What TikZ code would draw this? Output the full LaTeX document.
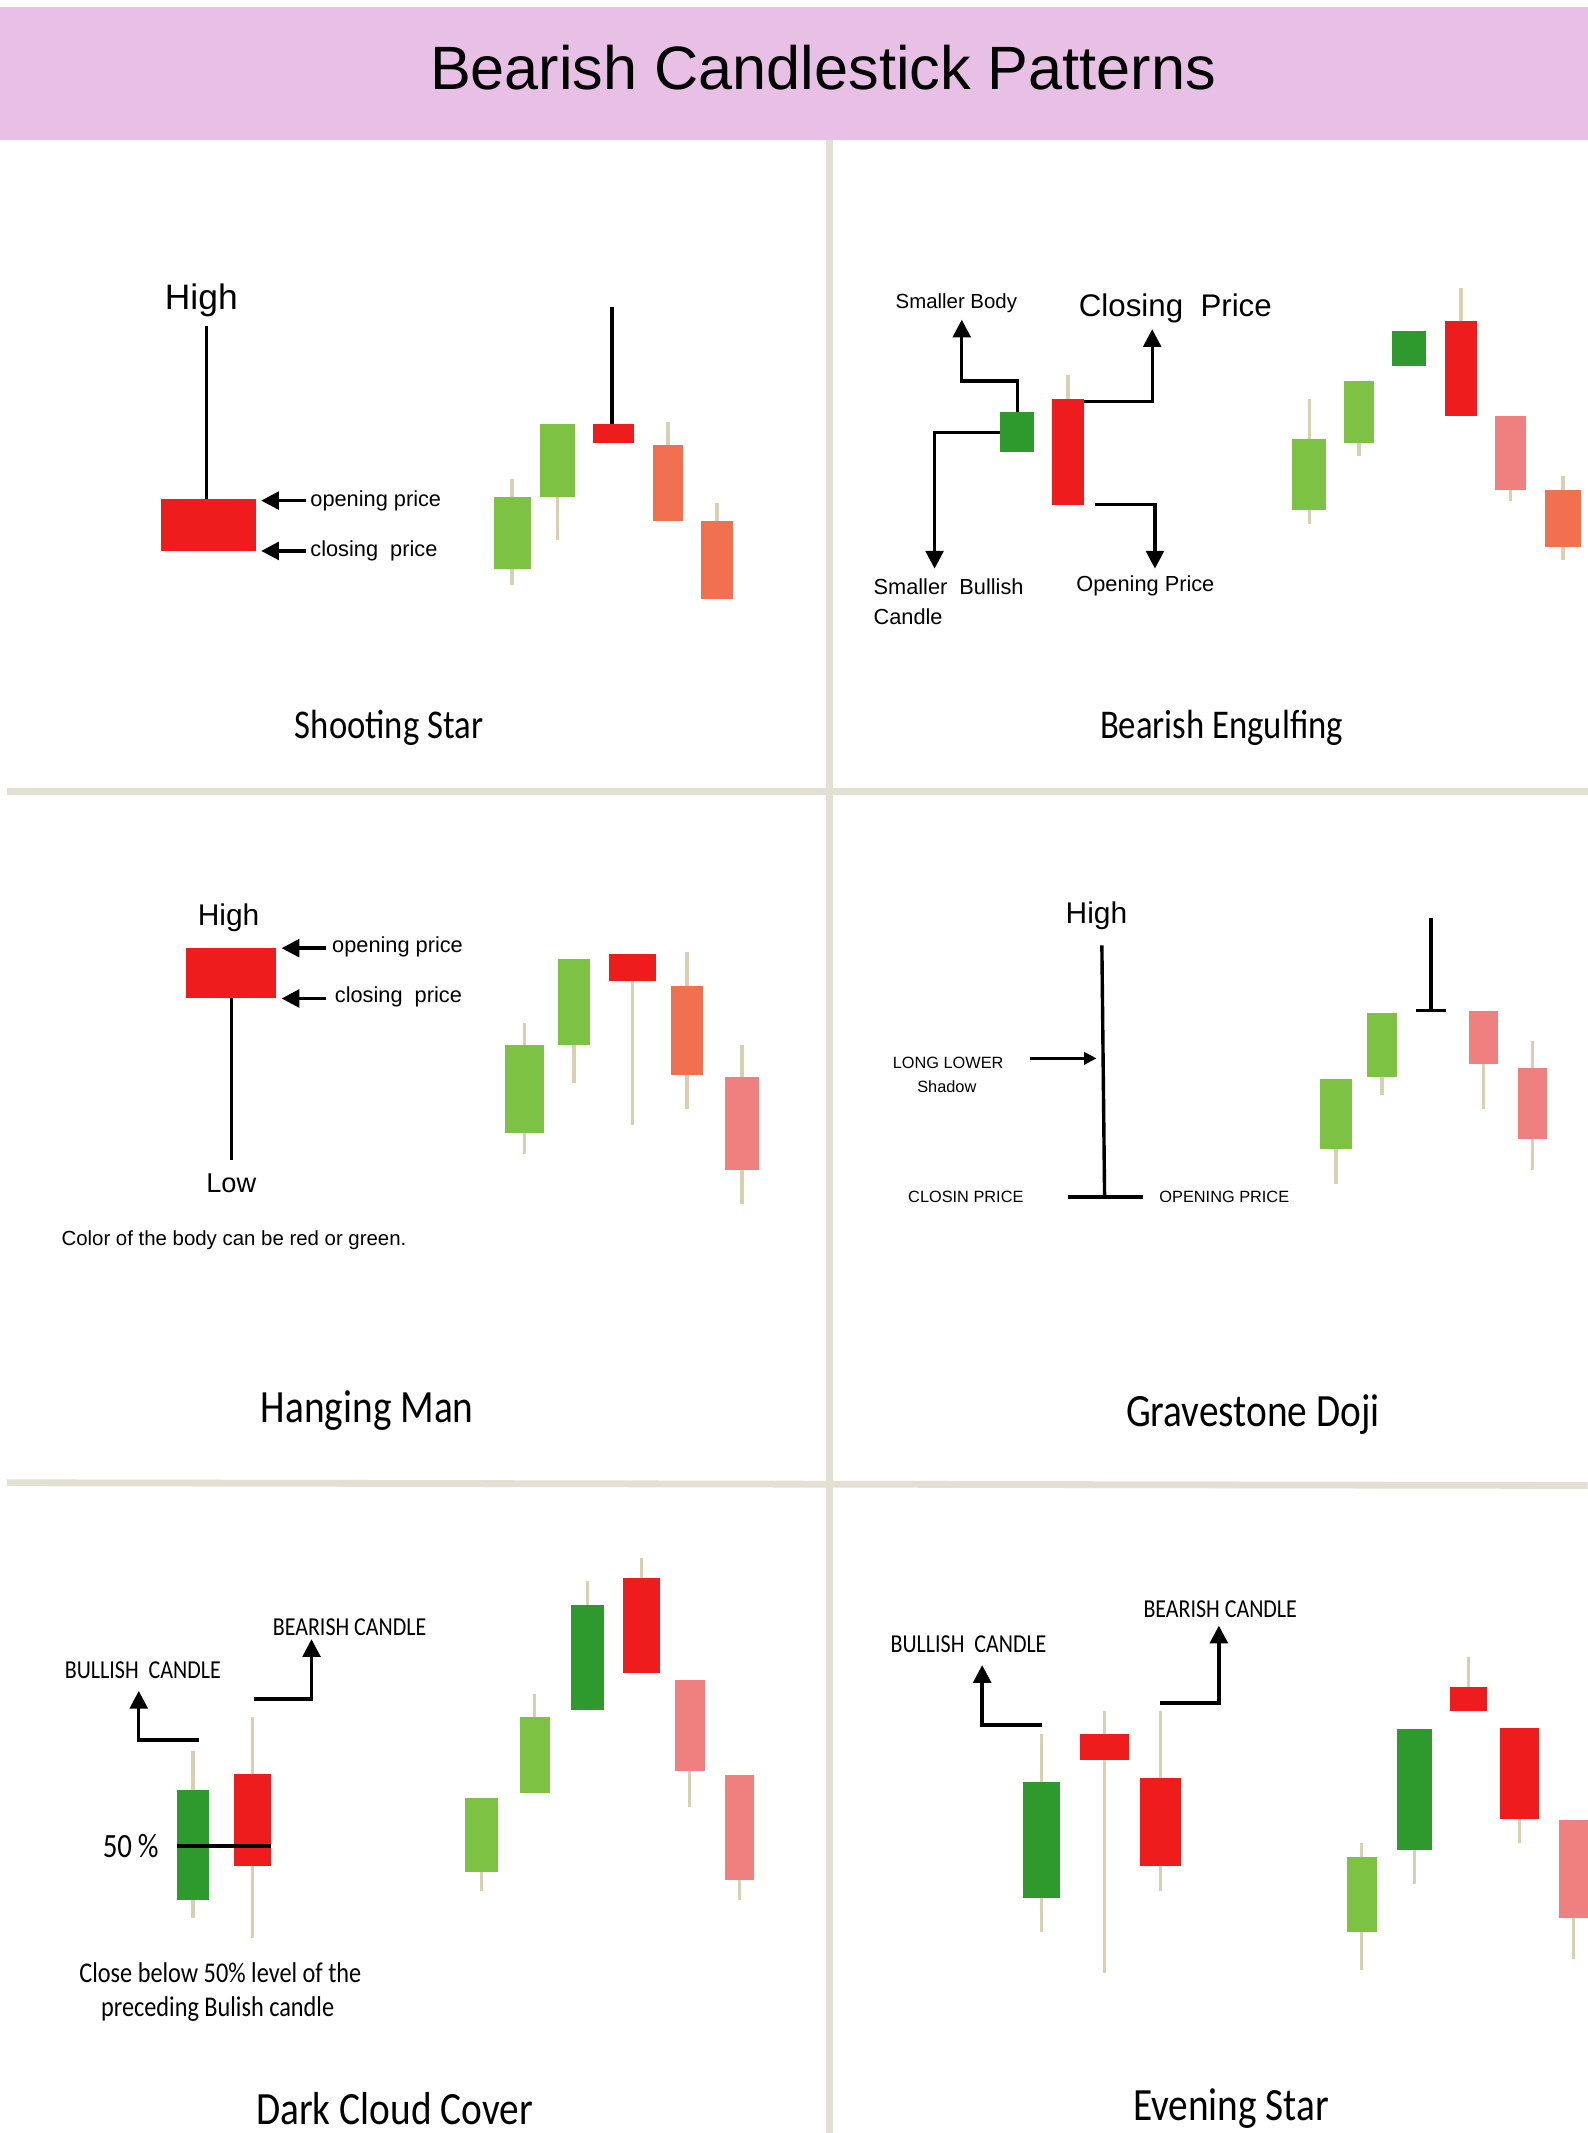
\documentclass[tikz,border=0pt]{standalone}
\usepackage{fontspec}
\setmainfont{Liberation Sans}
\newfontfamily\cond[FakeStretch=0.85]{Carlito}
\usetikzlibrary{arrows.meta}
\definecolor{hdr}{HTML}{E8C0E6}
\definecolor{divc}{HTML}{E2DFD3}
\definecolor{cred}{HTML}{EE1C1C}
\definecolor{cgrn}{HTML}{7DC242}
\definecolor{cdgr}{HTML}{2E9A2E}
\definecolor{csal}{HTML}{F08080}
\definecolor{corg}{HTML}{F07050}
\definecolor{wick}{HTML}{D8D0B0}
\newcommand{\cdl}[7]{\draw[wick,line width=2.5pt] ({(#1+#3)/2},#5) -- ({(#1+#3)/2},#6);\fill[#7] (#1,#2) rectangle (#3,#4);}
\tikzset{lab/.style={font=\fontsize{16}{18}\selectfont,inner sep=0},
 ttl/.style={font=\cond\fontsize{30}{34}\selectfont,inner sep=0},
 arr/.style={line width=2.5pt,-{Triangle[length=13pt,width=13pt]}},
 ln/.style={line width=2.5pt}}
\begin{document}
\begin{tikzpicture}[x=1pt,y=-1pt]
\useasboundingbox (0,0) rectangle (1167,1568);
\fill[white] (0,0) rectangle (1167,1568);
\fill[hdr] (0,5) rectangle (1167,103);
\node[font=\fontsize{45}{49}\selectfont] (title) at (605,50) {Bearish Candlestick Patterns};
\draw[divc,line width=5pt] (610,103) -- (610,1568);
\draw[divc,line width=5pt] (5,582) -- (1167,582);
\draw[divc,line width=5pt] (5,1090) -- (1167,1092);
% Shooting star
\node[font=\fontsize{26}{28}\selectfont] at (148,221) {High};
\draw[ln] (152,240) -- (152,368);
\fill[cred] (118,367) rectangle (188,405);
\draw[arr] (225,368) -- (192,368); \node[lab,anchor=west] at (228,368) {opening price};
\draw[arr] (225,405) -- (192,405); \node[lab,anchor=west] at (228,405) {closing\ \ price};
\cdl{363}{365}{390}{418}{352}{430}{cgrn}
\cdl{397}{312}{423}{365}{312}{397}{cgrn}
\draw[ln] (450,226) -- (450,312); \fill[cred] (436,312) rectangle (466,326);
\cdl{480}{327}{502}{383}{310}{383}{corg}
\cdl{515}{383}{539}{440}{370}{440}{corg}
\node[ttl] at (286,535) {Shooting Star};
% Bearish Engulfing
\node[lab,font=\fontsize{15}{17}\selectfont] at (703,223) {Smaller Body};
\node[lab,font=\fontsize{23}{25}\selectfont] at (864,227) {Closing\ \ Price};
\fill[cdgr] (735,303) rectangle (760,332);
\draw[wick,line width=2.5pt] (785,276) -- (785,293);
\fill[cred] (773,293) rectangle (797,371);
\draw[arr] (748,303) -- (748,280) -- (707,280) -- (707,235);
\draw[arr] (797,295) -- (847,295) -- (847,242);
\draw[arr] (735,318) -- (687,318) -- (687,418);
\draw[arr] (805,371) -- (849,371) -- (849,418);
\node[lab,anchor=west] at (642,431) {Smaller\ \ Bullish};
\node[lab,anchor=west] at (642,453) {Candle};
\node[lab] at (842,431) {Opening Price};
\cdl{950}{323}{975}{375}{293}{385}{cgrn}
\cdl{988}{280}{1010}{326}{280}{335}{cgrn}
\fill[cdgr] (1023,243) rectangle (1048,269);
\cdl{1062}{236}{1086}{306}{212}{306}{cred}
\cdl{1099}{306}{1122}{360}{306}{368}{csal}
\cdl{1136}{360}{1162}{402}{350}{412}{corg}
\node[ttl] at (898,535) {Bearish Engulfing};
% Hanging man
\node[font=\fontsize{22}{24}\selectfont] at (168,675) {High};
\fill[cred] (137,697) rectangle (203,734);
\draw[ln] (170,734) -- (170,853);
\node[font=\fontsize{20}{22}\selectfont] at (170,870) {Low};
\draw[arr] (240,697) -- (207,697); \node[lab,anchor=west] at (244,696) {opening price};
\draw[arr] (240,734) -- (207,734); \node[lab,anchor=west] at (246,733) {closing\ \ price};
\node[lab,font=\fontsize{15}{17}\selectfont] at (172,912) {Color of the body can be red or green.};
\cdl{371}{768}{400}{833}{752}{848}{cgrn}
\cdl{410}{705}{434}{768}{705}{796}{cgrn}
\cdl{448}{701}{482}{721}{701}{827}{cred}
\cdl{493}{725}{517}{790}{700}{815}{corg}
\cdl{533}{792}{558}{860}{768}{885}{csal}
\node[ttl,font=\cond\fontsize{34}{38}\selectfont] at (270,1037) {Hanging Man};
% Gravestone doji
\node[font=\fontsize{22}{24}\selectfont] at (806,673) {High};
\draw[ln] (810,695) -- (812,880);
\draw[ln] (785,880) -- (840,880);
\node[lab,font=\fontsize{12}{14}\selectfont] at (697,781) {LONG LOWER};
\node[lab,font=\fontsize{12}{14}\selectfont] at (696,799) {Shadow};
\draw[line width=2pt,-{Triangle[length=9pt,width=9pt]}] (757,778) -- (806,778);
\node[lab,font=\fontsize{12}{14}\selectfont] at (710,880) {CLOSIN PRICE};
\node[lab,font=\fontsize{12}{14}\selectfont] at (900,880) {OPENING PRICE};
\cdl{970}{793}{994}{845}{793}{870}{cgrn}
\cdl{1005}{745}{1027}{792}{745}{805}{cgrn}
\draw[ln] (1052,675) -- (1052,743); \draw[ln] (1041,743) -- (1063,743);
\cdl{1080}{743}{1101}{782}{743}{815}{csal}
\cdl{1116}{785}{1137}{837}{765}{860}{csal}
\node[ttl,font=\cond\fontsize{34}{38}\selectfont] at (921,1040) {Gravestone Doji};
% Dark cloud cover
\node[lab,font=\cond\fontsize{19}{21}\selectfont] at (105,1228) {BULLISH\ \ CANDLE};
\node[lab,font=\cond\fontsize{19}{21}\selectfont] at (257,1196) {BEARISH CANDLE};
\draw[arr] (146,1279) -- (102,1279) -- (102,1243);
\draw[arr] (187,1249) -- (229,1249) -- (229,1205);
\cdl{130}{1316}{154}{1397}{1287}{1410}{cdgr}
\cdl{172}{1304}{199}{1372}{1262}{1425}{cred}
\draw[line width=3pt] (130,1357) -- (199,1357);
\node[lab,font=\cond\fontsize{25}{27}\selectfont] at (96,1357) {50\,\%};
\node[lab,font=\cond\fontsize{21}{23}\selectfont] at (162,1450) {Close below 50\% level of the};
\node[lab,font=\cond\fontsize{21}{23}\selectfont] at (160,1477) {preceding Bulish candle};
\cdl{342}{1322}{366}{1376}{1322}{1390}{cgrn}
\cdl{382}{1262}{404}{1318}{1245}{1318}{cgrn}
\cdl{420}{1180}{444}{1257}{1162}{1257}{cdgr}
\cdl{458}{1160}{485}{1230}{1145}{1230}{cred}
\cdl{496}{1235}{518}{1302}{1235}{1328}{csal}
\cdl{533}{1305}{554}{1382}{1305}{1397}{csal}
\node[ttl,font=\cond\fontsize{34}{38}\selectfont] at (290,1550) {Dark Cloud Cover};
% Evening star
\node[lab,font=\cond\fontsize{19}{21}\selectfont] at (712,1209) {BULLISH\ \ CANDLE};
\node[lab,font=\cond\fontsize{19}{21}\selectfont] at (897,1183) {BEARISH CANDLE};
\draw[arr] (766,1268) -- (722,1268) -- (722,1224);
\draw[arr] (853,1252) -- (896,1252) -- (896,1195);
\cdl{752}{1310}{779}{1395}{1275}{1420}{cdgr}
\cdl{794}{1275}{830}{1294}{1258}{1450}{cred}
\cdl{838}{1307}{868}{1372}{1258}{1390}{cred}
\cdl{990}{1365}{1012}{1420}{1355}{1448}{cgrn}
\cdl{1027}{1271}{1053}{1360}{1271}{1385}{cdgr}
\cdl{1066}{1240}{1093}{1258}{1218}{1258}{cred}
\cdl{1103}{1270}{1131}{1337}{1270}{1355}{cred}
\cdl{1146}{1338}{1167}{1410}{1338}{1440}{csal}
\node[ttl,font=\cond\fontsize{34}{38}\selectfont] at (905,1550) {Evening Star};
\end{tikzpicture}
\end{document}
